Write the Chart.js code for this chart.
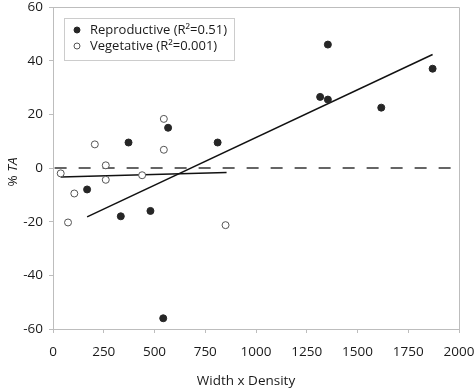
<!DOCTYPE html>
<html>
<head>
<meta charset="utf-8">
<script src="https://cdn.jsdelivr.net/npm/chart.js@4.4.1/dist/chart.umd.min.js"></script>
<style>
  html, body { margin: 0; padding: 0; background: #fff; }
  #wrap { width: 474px; height: 389px; }
</style>
</head>
<body>
<div id="wrap"><canvas id="chart"></canvas></div>
<script>
// reproductive shoots (filled dots)
var repX = [168, 334, 372, 480, 543, 567, 811, 1316, 1354, 1354, 1617, 1870];
var repY = [-8, -18, 9.5, -16, -56, 15, 9.5, 26.5, 46, 25.5, 22.5, 37];
// vegetative shoots (open dots)
var vegX = [38, 74, 105, 206, 260, 260, 439, 546, 546, 850];
var vegY = [-2, -20.3, -9.5, 8.8, 1, -4.4, -2.7, 18.3, 6.8, -21.3];
// regression lines, end points
var repFitX = [168, 1870];
var repFitY = [-18.2, 42.3];
var vegFitX = [38, 855];
var vegFitY = [-3.4, -1.7];
// zero reference line
var zeroX = [8, 1968];
var zeroY = [0, 0];

var legendLabels = ['Reproductive (R\u00B2=0.51)', 'Vegetative (R\u00B2=0.001)'];
var xTitle = 'Width x Density';
var FONT = "'Open Sans', sans-serif";
var TXT = '#1a1a1a';

function pts(xs, ys) {
  return xs.map(function(x, i) { return { x: x, y: ys[i] }; });
}

var extras = {
  id: 'extras',
  afterDraw: function(chart) {
    var ctx = chart.ctx;
    var a = chart.chartArea;
    ctx.save();
    // legend box
    ctx.strokeStyle = '#cccccc';
    ctx.lineWidth = 1;
    ctx.strokeRect(64.5, 18.5, 170, 42);
    var ds = chart.data.datasets;
    for (var i = 0; i < 2; i++) {
      var y = 30 + i * 16;
      ctx.beginPath();
      ctx.arc(77, y, 3, 0, Math.PI * 2);
      ctx.fillStyle = ds[i].pointBackgroundColor;
      ctx.fill();
      ctx.strokeStyle = ds[i].pointBorderColor;
      ctx.stroke();
      ctx.fillStyle = TXT;
      ctx.font = '13px ' + FONT;
      ctx.textBaseline = 'middle';
      ctx.fillText(legendLabels[i], 90, y);
    }
    // frame top and right
    ctx.strokeStyle = '#bdbdbd';
    ctx.beginPath();
    ctx.moveTo(a.left, a.top + 0.5);
    ctx.lineTo(a.right + 0.5, a.top + 0.5);
    ctx.lineTo(a.right + 0.5, a.bottom);
    ctx.stroke();
    // x title
    ctx.font = '13.5px ' + FONT;
    ctx.textAlign = 'center';
    ctx.fillText(xTitle, 246, 381);
    // y title: "% " plain, "TA" italic
    ctx.textAlign = 'left';
    ctx.translate(13, 172);
    ctx.rotate(-Math.PI / 2);
    ctx.font = '13.5px ' + FONT;
    var w1 = ctx.measureText('% ').width;
    ctx.font = 'italic 13.5px ' + FONT;
    var w2 = ctx.measureText('TA').width;
    var x0 = -(w1 + w2) / 2;
    ctx.font = '13.5px ' + FONT;
    ctx.fillText('% ', x0, 0);
    ctx.font = 'italic 13.5px ' + FONT;
    ctx.fillText('TA', x0 + w1, 0);
    ctx.restore();
  }
};

new Chart(document.getElementById('chart'), {
  type: 'scatter',
  data: {
    datasets: [
      {
        label: legendLabels[0],
        data: pts(repX, repY),
        pointRadius: 3.5,
        pointBackgroundColor: '#262626',
        pointBorderColor: '#262626',
        pointBorderWidth: 1
      },
      {
        label: legendLabels[1],
        data: pts(vegX, vegY),
        pointRadius: 3.5,
        pointBackgroundColor: '#ffffff',
        pointBorderColor: '#555555',
        pointBorderWidth: 1
      },
      {
        data: pts(zeroX, zeroY),
        showLine: true,
        pointRadius: 0,
        borderColor: '#333333',
        borderWidth: 1.5,
        borderDash: [12, 12]
      },
      {
        data: pts(repFitX, repFitY),
        showLine: true,
        pointRadius: 0,
        borderColor: '#111111',
        borderWidth: 1.5
      },
      {
        data: pts(vegFitX, vegFitY),
        showLine: true,
        pointRadius: 0,
        borderColor: '#111111',
        borderWidth: 1.5
      }
    ]
  },
  options: {
    responsive: true,
    maintainAspectRatio: false,
    animation: false,
    layout: { padding: { left: 0, right: 15, top: 7, bottom: 0 } },
    plugins: {
      legend: { display: false },
      tooltip: { enabled: false }
    },
    scales: {
      x: {
        type: 'linear',
        min: 0,
        max: 2000,
        afterFit: function(s) { s.height = 60; s.paddingLeft = 0; s.paddingRight = 0; },
        border: { color: '#bdbdbd', width: 1 },
        grid: { drawOnChartArea: false, drawTicks: true, tickLength: 4, color: '#bdbdbd' },
        ticks: {
          stepSize: 250, padding: 11, color: TXT, font: { family: FONT, size: 13.5 },
          callback: function(v) { return String(v); }
        }
      },
      y: {
        min: -60,
        max: 60,
        afterFit: function(s) { s.width = 53; s.paddingTop = 0; s.paddingBottom = 0; },
        border: { color: '#bdbdbd', width: 1 },
        grid: { drawOnChartArea: false, drawTicks: true, tickLength: 4, color: '#bdbdbd' },
        ticks: { stepSize: 20, padding: 6, color: TXT, font: { family: FONT, size: 13.5 } }
      }
    }
  },
  plugins: [extras]
});
</script>
</body>
</html>
